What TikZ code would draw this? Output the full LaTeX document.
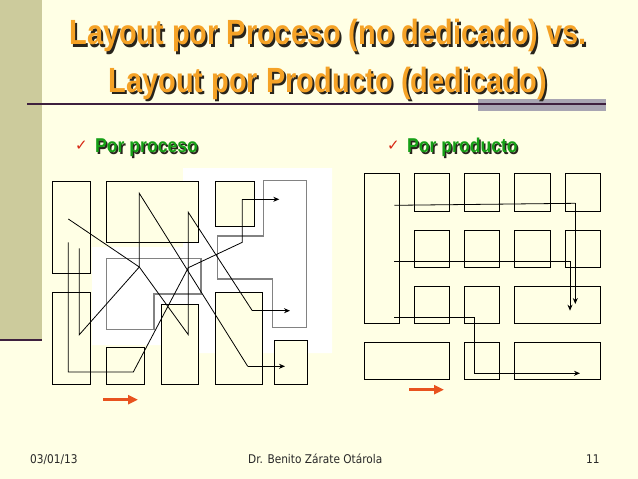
\documentclass[tikz,border=0pt]{standalone}
\usepackage{fontspec}
\setmainfont{Liberation Sans}
\newfontfamily\titlefont{Liberation Sans}[FakeStretch=0.826]
\newfontfamily\subfont{Liberation Sans}[FakeStretch=0.88]
\newfontfamily\checkfont{DejaVu Sans}
\newfontfamily\footfont{DejaVu Sans}[FakeStretch=0.88]
\usetikzlibrary{arrows.meta}
\definecolor{bgc}{RGB}{255,255,229}
\definecolor{sidec}{RGB}{204,203,156}
\definecolor{darkl}{RGB}{62,32,62}
\definecolor{barc}{RGB}{168,165,178}
\definecolor{orangec}{RGB}{245,162,38}
\definecolor{greenc}{RGB}{22,160,22}
\definecolor{shadowc}{RGB}{40,36,28}
\definecolor{checkc}{RGB}{215,40,20}
\definecolor{redarr}{RGB}{232,82,30}
\definecolor{grayl}{RGB}{130,130,130}
\definecolor{footc}{RGB}{40,40,40}
\tikzset{
  box/.style={draw=black, line width=1pt, fill=bgc, inner sep=0pt, outer sep=0pt},
  grayzone/.style={draw=grayl, line width=1.3pt, fill=white},
  conn/.style={draw=black, line width=0.8pt},
  connarrow/.style={conn, -{Stealth[length=6pt,width=5pt]}},
  bigarrow/.style={draw=redarr, line width=3pt, -{Triangle[length=10pt,width=9pt]}},
  titletext/.style={inner sep=0pt, anchor=base, font=\titlefont\bfseries\fontsize{35}{35}\selectfont},
  subtext/.style={inner sep=0pt, anchor=base west, font=\subfont\bfseries\fontsize{20}{20}\selectfont},
  checktext/.style={inner sep=0pt, anchor=base west, text=checkc, font=\checkfont\fontsize{15}{15}\selectfont},
  foottext/.style={inner sep=0pt, anchor=base west, text=footc, font=\footfont\fontsize{12}{12}\selectfont}
}
\begin{document}
\begin{tikzpicture}[x=1pt,y=-1pt]
\useasboundingbox (0,0) rectangle (638,479);
\fill[bgc] (0,0) rectangle (638,479);
% sidebar
\fill[sidec] (0,0) rectangle (42,340);
\draw[darkl, line width=2pt] (0,340) -- (42,340);
% title rule
\fill[barc] (478,99) rectangle (606,111);
\coordinate (ruleL) at (27,104);
\coordinate (ruleR) at (606,104);
\draw[darkl, line width=1.3pt] (ruleL) -- (ruleR);
% title
\node[titletext, text=shadowc] (t1s) at (330,47) {Layout por Proceso (no dedicado) vs.};
\node[titletext, text=orangec] (t1) at (328,45) {Layout por Proceso (no dedicado) vs.};
\node[titletext, text=shadowc] (t2s) at (330,94) {Layout por Producto (dedicado)};
\node[titletext, text=orangec] (t2) at (328,92) {Layout por Producto (dedicado)};
% subtitles
\node[checktext] (ck1) at (75,150) {✓};
\node[subtext, text=shadowc] (s1s) at (96.5,154.2) {Por proceso};
\node[subtext, text=greenc] (s1) at (95,152.7) {Por proceso};
\node[checktext] (ck2) at (387,150) {✓};
\node[subtext, text=shadowc] (s2s) at (408.5,154.2) {Por producto};
\node[subtext, text=greenc] (s2) at (407,152.7) {Por producto};
% ---------- left panel ----------
\fill[white] (92,247) -- (183,247) -- (183,168) -- (332,168) -- (332,353) -- (183,353) -- (183,345) -- (92,345) -- cycle;
\draw[grayzone] (106.7,258.3) -- (201,258.3) -- (201,294) -- (154,294) -- (154,329.3) -- (106.7,329.3) -- cycle;
\draw[grayzone] (263.3,180.7) -- (306.7,180.7) -- (306.7,327.7) -- (272.3,327.7) -- (272.3,279) -- (217.3,279) -- (217.3,236) -- (263.3,236) -- cycle;
\node[box, minimum width=38.4pt, minimum height=91.6pt] (LA) at (71.5,227.5) {};
\node[box, minimum width=91.6pt, minimum height=60.6pt] (LB) at (152.5,212) {};
\node[box, minimum width=38.6pt, minimum height=44.6pt] (LC) at (235,204) {};
\node[box, minimum width=38.4pt, minimum height=91.7pt] (LD) at (71.5,338.2) {};
\node[box, minimum width=37.6pt, minimum height=36.7pt] (LE) at (125.5,365.7) {};
\node[box, minimum width=37pt, minimum height=79.7pt] (LF) at (179.8,344.2) {};
\node[box, minimum width=46.6pt, minimum height=91.7pt] (LG) at (239,338.2) {};
\node[box, minimum width=33pt, minimum height=43.7pt] (LH) at (290.8,362.2) {};
% path 1
\coordinate (a1) at (68.3,242.3);
\coordinate (a2) at (68.3,372);
\coordinate (a3) at (133.3,372);
\coordinate (a4) at (188.3,267.7);
\coordinate (a5) at (242.3,242.3);
\coordinate (a6) at (242.3,199.3);
\coordinate (a7) at (279.3,199.3);
\draw[conn] (a1) -- (a2) -- (a3) -- (a4) -- (a5) -- (a6);
\draw[connarrow] (a6) -- (a7);
% path 2
\coordinate (b1) at (79.3,248.3);
\coordinate (b2) at (79.3,334.7);
\coordinate (b3) at (139.3,267);
\coordinate (b4) at (139.3,193.3);
\coordinate (b5) at (247.7,366.3);
\coordinate (b6) at (285,366.3);
\draw[conn] (b1) -- (b2) -- (b3) -- (b4) -- (b5);
\draw[connarrow] (b5) -- (b6);
% path 3
\coordinate (c1) at (68.3,219);
\coordinate (c3) at (188.3,334.7);
\coordinate (c4) at (188.3,212.3);
\coordinate (c5) at (252.3,310.7);
\coordinate (c6) at (290,310.7);
\draw[conn] (c1) -- (b3) -- (c3) -- (c4) -- (c5);
\draw[connarrow] (c5) -- (c6);
% red arrow left
\coordinate (ra1) at (103.3,399.7);
\coordinate (ra2) at (138,399.7);
\draw[bigarrow] (ra1) -- (ra2);
% ---------- right panel ----------
\node[box, minimum width=35pt, minimum height=150pt] (RT) at (381.8,248.3) {};
\node[box, minimum width=35pt, minimum height=37.7pt] (R11) at (431.8,192.2) {};
\node[box, minimum width=35pt, minimum height=37.7pt] (R12) at (481.8,192.2) {};
\node[box, minimum width=36pt, minimum height=37.7pt] (R13) at (532.3,192.2) {};
\node[box, minimum width=35pt, minimum height=37.7pt] (R14) at (582.8,192.2) {};
\node[box, minimum width=35pt, minimum height=36.7pt] (R21) at (431.8,248.7) {};
\node[box, minimum width=35pt, minimum height=36.7pt] (R22) at (481.8,248.7) {};
\node[box, minimum width=36pt, minimum height=36.7pt] (R23) at (532.3,248.7) {};
\node[box, minimum width=35pt, minimum height=36.7pt] (R24) at (582.8,248.7) {};
\node[box, minimum width=35pt, minimum height=37pt] (R31) at (431.8,304.8) {};
\node[box, minimum width=35pt, minimum height=37pt] (R32) at (481.8,304.8) {};
\node[box, minimum width=86pt, minimum height=37pt] (R33) at (557.3,304.8) {};
\node[box, minimum width=85pt, minimum height=36.7pt] (R41) at (406.8,360.7) {};
\node[box, minimum width=35pt, minimum height=36.7pt] (R42) at (481.8,360.7) {};
\node[box, minimum width=86pt, minimum height=36.7pt] (R43) at (557.3,360.7) {};
% flow lines
\coordinate (d1) at (394.3,205.3);
\coordinate (d2) at (575.3,203.3);
\coordinate (d3) at (575.3,304);
\draw[conn] (d1) -- (d2);
\draw[connarrow] (d2) -- (d3);
\coordinate (e1) at (394.3,261);
\coordinate (e2) at (570,261);
\coordinate (e3) at (570,310.7);
\draw[conn] (e1) -- (e2);
\draw[connarrow] (e2) -- (e3);
\coordinate (f1) at (394.3,317);
\coordinate (f2) at (474.3,317);
\coordinate (f3) at (474.3,373.3);
\coordinate (f4) at (580,373.3);
\draw[conn] (f1) -- (f2) -- (f3);
\draw[connarrow] (f3) -- (f4);
% red arrow right
\coordinate (rb1) at (409.3,389.7);
\coordinate (rb2) at (444,389.7);
\draw[bigarrow] (rb1) -- (rb2);
% footer
\node[foottext] (fd) at (30,463) {03/01/13};
\node[foottext] (fa) at (248,463) {Dr. Benito Zárate Otárola};
\node[foottext] (fn) at (586,463) {11};
\end{tikzpicture}
\end{document}
